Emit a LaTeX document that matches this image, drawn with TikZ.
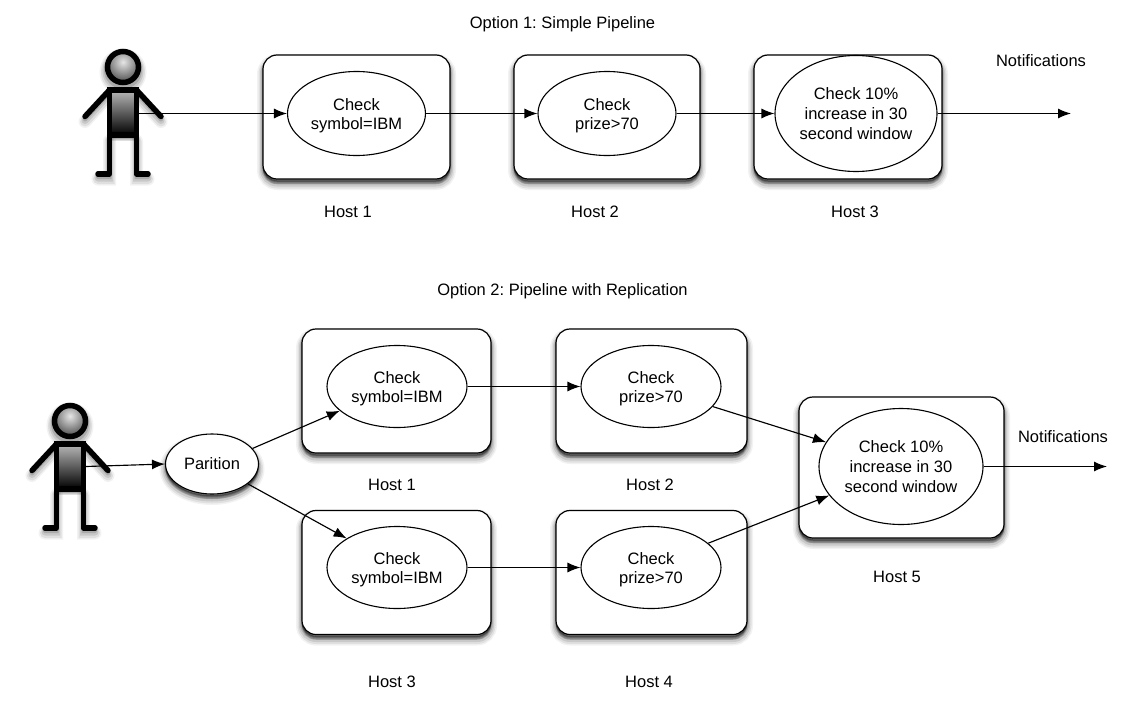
\documentclass[tikz,border=0pt]{standalone}
\usepackage{fontspec}
\setmainfont{Liberation Sans}
\usetikzlibrary{arrows.meta,shapes.geometric}
\frenchspacing
\newcommand{\lowfirst}{\rule{0pt}{16.5pt}}
\tikzset{
  softshadow/.style={
    preaction={draw=black,fill=black,line width=12pt,opacity=.05,transform canvas={yshift=-5pt}},
    preaction={draw=black,fill=black,line width=9pt,opacity=.07,transform canvas={yshift=-5pt}},
    preaction={draw=black,fill=black,line width=6pt,opacity=.10,transform canvas={yshift=-4.5pt}},
    preaction={draw=black,fill=black,line width=3.5pt,opacity=.15,transform canvas={yshift=-3.5pt}},
    preaction={draw=black,fill=black,line width=1.5pt,opacity=.25,transform canvas={yshift=-2pt}}},
  hostbox/.style={draw=black,fill=white,line width=1.2pt,rounded corners=14pt,softshadow,inner sep=0pt},
  check/.style={ellipse,draw=black,fill=white,line width=1.1pt,inner sep=0pt,font=\fontsize{16.5}{19.7}\selectfont,align=center},
  caption/.style={font=\fontsize{16.5}{20}\selectfont,inner sep=0pt,align=center},
  flow/.style={draw=black,line width=1.15pt,-{Latex[length=13pt,width=10pt]}},
  limb/.style={draw=black,line width=5.5pt,line cap=round,line join=round}
}
\newcommand{\hostbox}[5]{\node[hostbox,minimum width=#4pt,minimum height=#5pt] (#1) at (#2,#3) {};}
\newcommand{\stickman}[2]{%
  \begin{scope}[shift={(#1,#2)}]
    \foreach \w/\o/\s in {13/.05/-5,10/.08/-5,7/.10/-4,4/.14/-3}{
      \begin{scope}[transform canvas={yshift=\s pt}]
        \draw[black,opacity=\o,line width=\w pt,line cap=round]
          (0,-47) circle (17) 
          (-13.5,-24)--(-38,2.5) (13.5,-24)--(38,2.5) (-13.5,22)--(-13.5,60)--(-25,60) (13.5,22)--(13.5,60)--(25,60);
        \fill[black,opacity=\o] (-14,-24) rectangle (14,22);
      \end{scope}}
    \draw[limb] (-13.5,-24)--(-38,2.5) (13.5,-24)--(38,2.5);
    \draw[limb] (-13.5,22)--(-13.5,60)--(-25,60) (13.5,22)--(13.5,60)--(25,60);
    \draw[black,line width=5.5pt,top color=gray!55,bottom color=black] (-13.5,-24) rectangle (13.5,21);
    \begin{scope}
      \clip (0,-47) circle (15.5);
      \shade[inner color=gray!20,outer color=black!75] (0,-52) circle (22);
    \end{scope}
    \draw[black,line width=5.5pt] (0,-47) circle (15.5);
  \end{scope}}
\begin{document}
\begin{tikzpicture}[x=1pt,y=-1pt]
\useasboundingbox (0,0) rectangle (1137,704);
\fill[white] (0,0) rectangle (1137,704);

\node[caption] (title1) at (562.5,24) {Option 1: Simple Pipeline};
\node[caption] (title2) at (562.5,291) {Option 2: Pipeline with Replication};

% persons
\stickman{123}{114}
\stickman{70}{468}
\coordinate (p1) at (137,113.5);
\coordinate (p2) at (86,466.5);

% top row
\hostbox{b1}{356.5}{117}{187}{124}
\hostbox{b2}{607}{117}{186}{124}
\hostbox{b3}{848}{117}{188}{124}
\node[check,minimum width=138pt,minimum height=84pt] (e1) at (356.5,113.5) {\lowfirst Check\\symbol=IBM};
\node[check,minimum width=138pt,minimum height=84pt] (e2) at (607,113.5) {\lowfirst Check\\prize>70};
\node[check,minimum width=162pt,minimum height=116pt] (e3) at (856,113.5) {Check 10\%\\increase in 30\\second window};
\coordinate (out1) at (1071,113.5);
\node[caption] (n1) at (1041,61) {Notifications};
\node[caption] (h1) at (348,211.5) {Host 1};
\node[caption] (h2) at (595,211.5) {Host 2};
\node[caption] (h3) at (855,211.5) {Host 3};
\draw[flow] (p1) -- (e1.west);
\draw[flow] (e1.east) -- (e2.west);
\draw[flow] (e2.east) -- (e3.west);
\draw[flow] (e3.east) -- (out1);

% bottom
\hostbox{c1}{396.5}{391}{189}{124}
\hostbox{c2}{651.5}{391}{191}{124}
\hostbox{c3}{396.5}{572.5}{189}{124}
\hostbox{c4}{651.5}{572.5}{191}{124}
\hostbox{c5}{901.5}{467.5}{205}{141}
\node[check,minimum width=140pt,minimum height=82pt] (f1) at (397,386.5) {\lowfirst Check\\symbol=IBM};
\node[check,minimum width=140pt,minimum height=82pt] (f2) at (651,386.5) {\lowfirst Check\\prize>70};
\node[check,minimum width=140pt,minimum height=82pt] (f3) at (397,567.5) {\lowfirst Check\\symbol=IBM};
\node[check,minimum width=140pt,minimum height=82pt] (f4) at (651,567.5) {\lowfirst Check\\prize>70};
\node[check,minimum width=164pt,minimum height=116pt] (f5) at (901,466.5) {Check 10\%\\increase in 30\\second window};
\node[check,softshadow,minimum width=93pt,minimum height=60pt] (part) at (212,464) {Parition};
\coordinate (out2) at (1107,466.5);
\node[caption] (n2) at (1063,436.5) {Notifications};
\node[caption] (k1) at (392,484.5) {Host 1};
\node[caption] (k2) at (650,484.5) {Host 2};
\node[caption] (k3) at (392,681.5) {Host 3};
\node[caption] (k4) at (649,681.5) {Host 4};
\node[caption] (k5) at (897,576.5) {Host 5};
\draw[flow] (p2) -- (part.west);
\draw[flow] (part.21.8) -- (f1.203);
\draw[flow] (part.-29) -- (f3.150);
\draw[flow] (f1.east) -- (f2.west);
\draw[flow] (f3.east) -- (f4.west);
\draw[flow] (f2.-18) -- (f5.162.7);
\draw[flow] (f4.23) -- (f5.202.3);
\draw[flow] (f5.east) -- (out2);
\end{tikzpicture}
\end{document}
